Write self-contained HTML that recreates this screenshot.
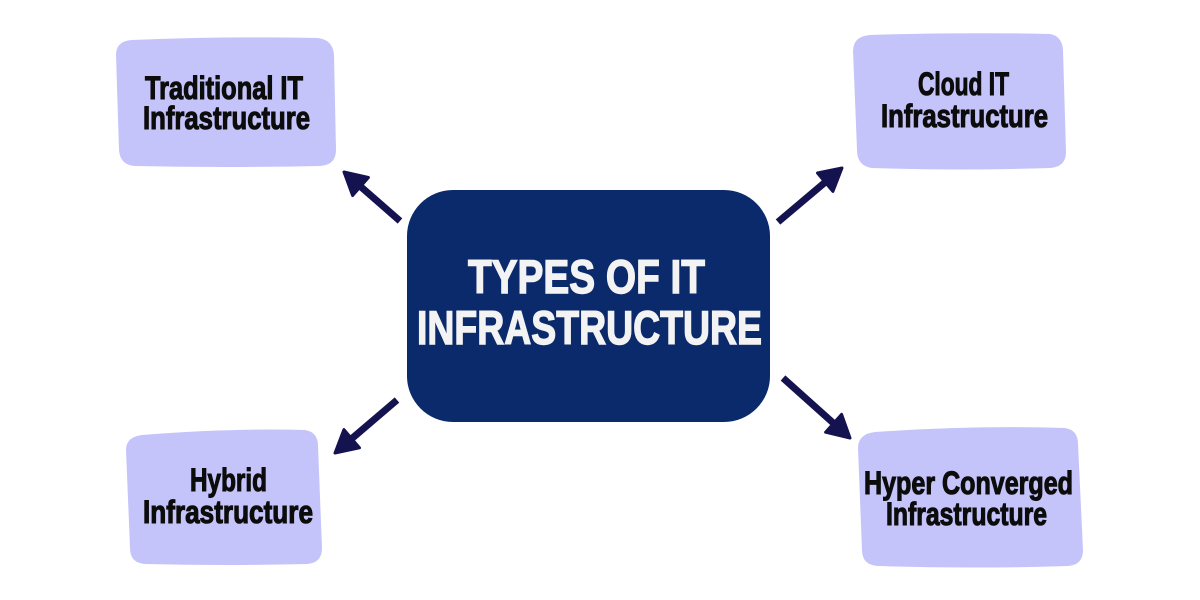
<!DOCTYPE html>
<html>
<head>
<meta charset="utf-8">
<style>
  html,body{margin:0;padding:0;background:#ffffff;}
  svg{display:block;}
  .t{font-family:"Liberation Sans","DejaVu Sans",sans-serif;font-weight:bold;font-size:32px;fill:#0c0c0c;stroke:#0c0c0c;stroke-width:1.1px;}
  .c{font-family:"Liberation Sans","DejaVu Sans",sans-serif;font-weight:bold;font-size:47px;fill:#f3f3f3;stroke:#f3f3f3;stroke-width:1.4px;}
</style>
</head>
<body>
<svg width="1200" height="600" viewBox="0 0 1200 600" xmlns="http://www.w3.org/2000/svg">
  <rect width="1200" height="600" fill="#ffffff"/>

  <!-- lavender boxes -->
  <path d="M132 40 Q225 36 318 38 Q333 40 334 55 L336 150 Q336 165 320 166 Q225 168 135 166 Q120 165 119 150 L116 55 Q116 41 132 40 Z" fill="#c5c4fa"/>
  <path d="M870 35 Q960 32 1050 34 Q1062 36 1063 50 L1066 152 Q1066 167 1050 168 Q960 171 872 168 Q857 166 857 150 L853 50 Q854 36 870 35 Z" fill="#c5c4fa"/>
  <path d="M142 435 Q230 428 305 430 Q318 432 318 446 L322 548 Q322 563 307 564 Q225 566 145 564 Q130 563 130 548 L126 450 Q126 437 142 435 Z" fill="#c5c4fa"/>
  <path d="M875 432 Q975 425 1065 428 Q1078 430 1078 444 L1083 550 Q1083 565 1068 566 Q975 569 878 566 Q862 565 862 550 L858 448 Q858 434 875 432 Z" fill="#c5c4fa"/>

  <!-- center box -->
  <rect x="407" y="190" width="363" height="232" rx="46" ry="46" fill="#0b2a6b"/>

  <!-- arrows -->
  <g stroke="#15134f" fill="#15134f" stroke-linejoin="round">
    <line x1="400" y1="221" x2="360.5" y2="186.5" stroke-width="7"/>
    <polygon points="344,172 368.4,177.5 352.6,195.5" stroke-width="3"/>

    <line x1="778" y1="222" x2="825.2" y2="182.2" stroke-width="7"/>
    <polygon points="842,168 832.9,191.4 817.5,173" stroke-width="3"/>

    <line x1="397" y1="400" x2="351.7" y2="438.7" stroke-width="7"/>
    <polygon points="335,453 359.5,447.8 343.9,429.6" stroke-width="3"/>

    <line x1="783" y1="378" x2="833.6" y2="423.3" stroke-width="7"/>
    <polygon points="850,438 825.6,432.2 841.6,414.4" stroke-width="3"/>
  </g>

  <!-- box labels -->
  <text class="t" x="145" y="99" textLength="158" lengthAdjust="spacingAndGlyphs">Traditional IT</text>
  <text class="t" x="143" y="129" textLength="167" lengthAdjust="spacingAndGlyphs">Infrastructure</text>

  <text class="t" x="918" y="95" textLength="91" lengthAdjust="spacingAndGlyphs">Cloud IT</text>
  <text class="t" x="881" y="127" textLength="167" lengthAdjust="spacingAndGlyphs">Infrastructure</text>

  <text class="t" x="190" y="491" textLength="77" lengthAdjust="spacingAndGlyphs">Hybrid</text>
  <text class="t" x="143" y="523" textLength="170" lengthAdjust="spacingAndGlyphs">Infrastructure</text>

  <text class="t" x="864" y="494" textLength="209" lengthAdjust="spacingAndGlyphs">Hyper Converged</text>
  <text class="t" x="886" y="525" textLength="161" lengthAdjust="spacingAndGlyphs">Infrastructure</text>

  <!-- center title -->
  <text class="c" x="468" y="293" textLength="237" lengthAdjust="spacingAndGlyphs">TYPES OF IT</text>
  <text class="c" x="417" y="344" textLength="345" lengthAdjust="spacingAndGlyphs">INFRASTRUCTURE</text>
</svg>
</body>
</html>
